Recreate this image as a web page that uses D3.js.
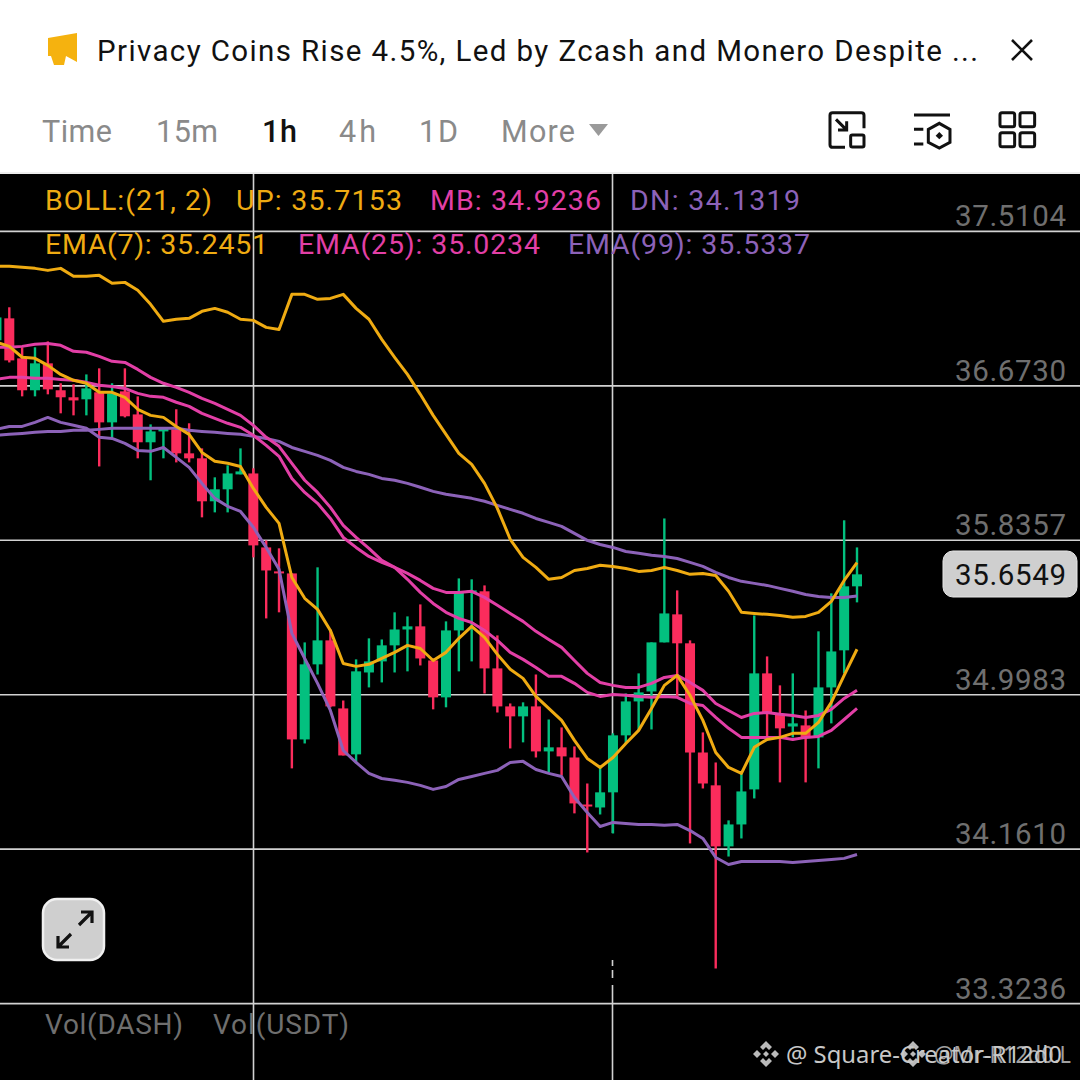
<!DOCTYPE html>
<html>
<head>
<meta charset="utf-8">
<style>
html, body { margin: 0; padding: 0; background: #fff; }
svg { display: block; }
text { font-family: Roboto, sans-serif; }
</style>
<script src="https://cdn.jsdelivr.net/npm/d3@7/dist/d3.min.js"></script>
</head>
<body>
<div id="chart"></div>
<script>
var titleText = "Privacy Coins Rise 4.5%, Led by Zcash and Monero Despite ...";
var tabs = ["Time", "15m", "1h", "4h", "1D", "More"];
var priceTicks = [37.5104, 36.6730, 35.8357, 34.9983, 34.1610, 33.3236];
var lastPrice = 35.6549;

var opens = [36.920,37.039,36.822,36.649,36.795,36.649,36.611,36.600,36.638,36.475,36.643,36.518,36.367,36.426,36.437,36.307,36.280,36.047,36.112,36.193,36.198,35.797,35.667,35.656,34.756,35.163,35.293,34.924,34.675,35.119,35.179,35.266,35.352,35.369,35.184,34.984,35.347,35.553,35.559,35.141,34.935,34.881,34.935,34.691,34.713,34.658,34.403,34.387,34.469,34.778,34.962,35.016,35.282,35.434,35.277,34.685,34.507,34.176,34.295,34.485,35.114,34.892,34.826,34.832,34.767,35.038,35.239,35.586];
var highs = [37.044,37.099,36.882,36.882,36.914,36.687,36.681,36.735,36.768,36.687,36.768,36.616,36.464,36.443,36.546,36.470,36.334,36.177,36.242,36.334,36.226,35.835,35.792,35.656,35.282,35.689,35.352,34.967,35.190,35.304,35.298,35.445,35.423,35.488,35.195,35.396,35.629,35.624,35.591,35.320,34.951,34.957,35.108,34.864,34.821,34.718,34.517,34.604,34.789,35.005,35.114,35.282,35.954,35.564,35.293,34.794,34.631,34.317,34.572,35.428,35.206,35.049,35.114,34.913,35.342,35.548,35.944,35.797];
var lows = [36.893,36.800,36.616,36.616,36.627,36.524,36.513,36.513,36.236,36.394,36.502,36.280,36.161,36.280,36.258,36.258,35.960,35.987,35.987,36.193,35.743,35.412,35.445,34.599,34.734,35.108,34.930,34.669,34.626,35.038,35.065,35.119,35.125,35.157,34.919,34.930,35.125,35.179,35.005,34.902,34.707,34.740,34.658,34.577,34.561,34.355,34.143,34.349,34.246,34.734,34.805,34.810,35.282,34.984,34.192,34.490,33.514,34.121,34.219,34.436,34.767,34.523,34.767,34.523,34.599,34.843,35.114,35.499];
var closes = [37.044,36.811,36.649,36.795,36.654,36.611,36.594,36.659,36.475,36.632,36.508,36.367,36.426,36.443,36.307,36.280,36.047,36.112,36.198,36.209,35.808,35.672,35.656,34.756,35.163,35.293,34.935,34.669,35.125,35.179,35.266,35.352,35.369,35.195,34.984,35.347,35.553,35.564,35.141,34.935,34.881,34.935,34.691,34.713,34.664,34.409,34.393,34.469,34.778,34.962,35.011,35.282,35.439,35.277,34.685,34.517,34.176,34.295,34.474,35.114,34.897,34.816,34.843,34.767,35.038,35.233,35.586,35.651];

var bollUp = [37.321,37.321,37.316,37.310,37.299,37.310,37.267,37.267,37.272,37.229,37.234,37.191,37.115,37.023,37.034,37.039,37.077,37.093,37.072,37.034,37.028,36.990,36.979,37.169,37.169,37.142,37.147,37.169,37.093,37.034,36.925,36.828,36.735,36.627,36.513,36.410,36.307,36.247,36.144,36.009,35.841,35.743,35.689,35.624,35.634,35.672,35.683,35.700,35.694,35.683,35.667,35.672,35.689,35.672,35.651,35.656,35.645,35.559,35.445,35.439,35.434,35.428,35.418,35.423,35.445,35.504,35.618,35.715];
var bollMb = [36.882,36.882,36.887,36.898,36.903,36.893,36.860,36.855,36.833,36.806,36.800,36.762,36.719,36.687,36.665,36.638,36.605,36.578,36.546,36.513,36.459,36.394,36.345,36.253,36.161,36.095,36.014,35.916,35.851,35.792,35.727,35.689,35.624,35.553,35.493,35.445,35.412,35.390,35.347,35.293,35.228,35.190,35.146,35.098,35.098,35.060,35.011,34.989,35.000,34.995,34.989,34.984,34.989,34.984,34.951,34.940,34.875,34.816,34.767,34.767,34.767,34.767,34.756,34.767,34.772,34.805,34.864,34.924];
var bollDn = [36.437,36.453,36.453,36.475,36.502,36.475,36.459,36.443,36.394,36.388,36.361,36.323,36.318,36.339,36.285,36.231,36.144,36.063,36.020,35.992,35.906,35.797,35.678,35.331,35.195,35.060,34.913,34.696,34.631,34.572,34.544,34.534,34.523,34.507,34.485,34.501,34.539,34.555,34.572,34.588,34.631,34.637,34.593,34.572,34.555,34.441,34.360,34.284,34.306,34.300,34.295,34.295,34.290,34.295,34.262,34.219,34.116,34.078,34.094,34.094,34.094,34.094,34.089,34.094,34.100,34.105,34.111,34.132];
var ema7 = [36.909,36.887,36.828,36.822,36.784,36.735,36.703,36.687,36.638,36.638,36.611,36.546,36.513,36.502,36.453,36.410,36.312,36.264,36.253,36.236,36.117,36.014,35.927,35.634,35.521,35.461,35.347,35.168,35.152,35.163,35.195,35.228,35.266,35.249,35.184,35.228,35.304,35.369,35.309,35.217,35.136,35.087,34.989,34.924,34.859,34.751,34.653,34.604,34.658,34.734,34.805,34.924,35.049,35.103,34.995,34.859,34.685,34.604,34.572,34.713,34.756,34.767,34.789,34.789,34.848,34.957,35.103,35.245];
var ema25 = [36.708,36.719,36.719,36.714,36.714,36.708,36.703,36.692,36.676,36.670,36.659,36.632,36.616,36.611,36.584,36.562,36.524,36.497,36.470,36.448,36.405,36.350,36.291,36.171,36.095,36.036,35.954,35.851,35.797,35.748,35.716,35.689,35.656,35.618,35.575,35.553,35.553,35.559,35.526,35.483,35.439,35.396,35.342,35.298,35.255,35.184,35.114,35.065,35.049,35.038,35.038,35.060,35.092,35.103,35.065,35.022,34.951,34.913,34.875,34.897,34.902,34.892,34.886,34.875,34.886,34.919,34.978,35.023];
var ema99 = [36.405,36.410,36.415,36.421,36.426,36.426,36.432,36.432,36.437,36.443,36.443,36.443,36.443,36.443,36.443,36.432,36.426,36.421,36.415,36.410,36.399,36.388,36.372,36.339,36.318,36.296,36.269,36.231,36.209,36.193,36.171,36.161,36.144,36.123,36.101,36.085,36.074,36.063,36.047,36.025,36.003,35.982,35.954,35.933,35.911,35.873,35.835,35.813,35.797,35.775,35.765,35.754,35.748,35.737,35.716,35.694,35.662,35.634,35.613,35.602,35.591,35.575,35.559,35.542,35.531,35.526,35.526,35.534];

var WIDTH = 1080, HEIGHT = 1080, CHART_TOP = 174;
var GREEN = "#03c07f", RED = "#fb2c5c", ORANGE = "#efab12", PINK = "#e23fa6", PURPLE = "#8c62b8", AXIS_GRAY = "#6f6f6f", GRID = "#d2d2d2";

var svg = d3.select("#chart").append("svg").attr("width", WIDTH).attr("height", HEIGHT);

svg.append("rect").attr("width", WIDTH).attr("height", HEIGHT).attr("fill", "#fff");
svg.append("rect").attr("y", 172).attr("width", WIDTH).attr("height", 2).attr("fill", "#eeeeee");
svg.append("rect").attr("y", CHART_TOP).attr("width", WIDTH).attr("height", HEIGHT - CHART_TOP).attr("fill", "#000");

// scales: one candle step is about 12.84px, price grid about 154.4px
var xScale = d3.scaleLinear().domain([0, opens.length - 1]).range([-3.54, 857]);
var yScale = d3.scaleLinear().domain([37.5104, 33.3236]).range([231.4, 1003.6]);

// grid
var grid = svg.append("g").attr("class", "grid");
grid.selectAll("line.h").data(priceTicks).enter().append("line")
    .attr("class", "h")
    .attr("x1", 0).attr("x2", WIDTH)
    .attr("y1", function (d) { return yScale(d); })
    .attr("y2", function (d) { return yScale(d); })
    .attr("stroke", GRID).attr("stroke-width", 1.6);
var vSegments = [[253.5, CHART_TOP, HEIGHT], [612.5, CHART_TOP, 833], [612.5, 960, 966], [612.5, 970, 978], [612.5, 985, HEIGHT]];
grid.selectAll("line.v").data(vSegments).enter().append("line")
    .attr("class", "v")
    .attr("x1", function (d) { return d[0]; }).attr("x2", function (d) { return d[0]; })
    .attr("y1", function (d) { return d[1]; }).attr("y2", function (d) { return d[2]; })
    .attr("stroke", GRID).attr("stroke-width", 1.6);

// candles
var candles = svg.append("g").selectAll("g").data(opens).enter().append("g");
function candleColor(d, i) { return closes[i] >= d ? GREEN : RED; }
candles.append("line")
    .attr("x1", function (d, i) { return xScale(i); })
    .attr("x2", function (d, i) { return xScale(i); })
    .attr("y1", function (d, i) { return yScale(highs[i]); })
    .attr("y2", function (d, i) { return yScale(lows[i]); })
    .attr("stroke", candleColor).attr("stroke-width", 2.4);
candles.append("rect")
    .attr("x", function (d, i) { return xScale(i) - 5; })
    .attr("width", 10)
    .attr("y", function (d, i) { return yScale(Math.max(d, closes[i])); })
    .attr("height", function (d, i) { return Math.max(Math.abs(yScale(d) - yScale(closes[i])), 2); })
    .attr("fill", candleColor);

// indicator lines
var lineGen = d3.line().x(function (d, i) { return xScale(i); }).y(function (d) { return yScale(d); });
var indicators = [[ema99, PURPLE], [bollDn, PURPLE], [bollUp, ORANGE], [bollMb, PINK], [ema25, PINK], [ema7, ORANGE]];
svg.append("g").selectAll("path").data(indicators).enter().append("path")
    .attr("d", function (d) { return lineGen(d[0]); })
    .attr("fill", "none")
    .attr("stroke", function (d) { return d[1]; })
    .attr("stroke-width", 3)
    .attr("stroke-linejoin", "round");

// price axis
var axis = d3.axisRight(yScale).tickValues(priceTicks).tickFormat(d3.format(".4f")).tickSize(0);
var axisG = svg.append("g").attr("transform", "translate(955,0)").call(axis);
axisG.select(".domain").remove();
axisG.selectAll("text")
    .attr("x", 0).attr("dy", -5.5)
    .attr("fill", AXIS_GRAY)
    .attr("textLength", 111)
    .attr("lengthAdjust", "spacing")
    .style("font-size", "29.5px")
    .style("font-family", "Roboto, sans-serif");

// current price tag
svg.append("rect").attr("x", 943).attr("y", 551).attr("width", 134).attr("height", 46).attr("rx", 10)
    .attr("fill", "#cfcfcf").attr("stroke", "#e6e6e6").attr("stroke-width", 1);
svg.append("text").attr("x", 955).attr("y", 585).attr("font-size", 29.5).attr("fill", "#111")
    .attr("textLength", 111).attr("lengthAdjust", "spacing")
    .text(d3.format(".4f")(lastPrice));

// indicator legend: text, x, baseline, colour, width
var legend = [
    ["BOLL:(21, 2)", 45, 210, ORANGE, 167],
    ["UP: 35.7153", 236, 210, ORANGE, 166],
    ["MB: 34.9236", 430, 210, PINK, 171],
    ["DN: 34.1319", 630, 210, PURPLE, 170],
    ["EMA(7): 35.2451", 45, 254, ORANGE, 223],
    ["EMA(25): 35.0234", 298, 254, PINK, 242],
    ["EMA(99): 35.5337", 568, 254, PURPLE, 242]
];
svg.append("g").selectAll("text").data(legend).enter().append("text")
    .attr("x", function (d) { return d[1]; })
    .attr("y", function (d) { return d[2]; })
    .attr("fill", function (d) { return d[3]; })
    .attr("font-size", 28.5)
    .attr("textLength", function (d) { return d[4]; })
    .attr("lengthAdjust", "spacing")
    .text(function (d) { return d[0]; });

// volume captions
svg.append("text").attr("x", 45).attr("y", 1034).attr("font-size", 28).attr("fill", AXIS_GRAY)
    .attr("textLength", 138).attr("lengthAdjust", "spacing").text("Vol(DASH)");
svg.append("text").attr("x", 213).attr("y", 1034).attr("font-size", 28).attr("fill", AXIS_GRAY)
    .attr("textLength", 136).attr("lengthAdjust", "spacing").text("Vol(USDT)");

// header
svg.append("path").attr("d", "M48,38 L77,33 L77,62 L66,56 L64,65 L54,65 L51,56 L48,56 Z").attr("fill", "#f5b20f");
svg.append("text").attr("x", 97).attr("y", 61).attr("font-size", 29.5).attr("fill", "#111")
    .attr("textLength", 881).attr("lengthAdjust", "spacing").text(titleText);
svg.append("path").attr("d", "M1012,40 L1032,60 M1032,40 L1012,60").attr("stroke", "#111").attr("stroke-width", 2.6).attr("fill", "none");

var tabX = [42, 156, 262, 339, 419, 501];
var tabW = [70, 62, 35, 37, 39, 74];
svg.append("g").selectAll("text").data(tabs).enter().append("text")
    .attr("x", function (d, i) { return tabX[i]; })
    .attr("y", 142)
    .attr("font-size", 30.5)
    .attr("font-weight", function (d) { return d === "1h" ? 500 : 400; })
    .attr("fill", function (d) { return d === "1h" ? "#111" : "#8a8a8a"; })
    .attr("textLength", function (d, i) { return tabW[i]; })
    .attr("lengthAdjust", "spacing")
    .text(function (d) { return d; });
svg.append("path").attr("d", "M589,124 L608,124 L598.5,136 Z").attr("fill", "#9a9a9a");

// toolbar icons
var icons = svg.append("g").attr("transform", "translate(820,90) scale(0.3333)")
    .attr("fill", "none").attr("stroke", "#111").attr("stroke-width", 9);
icons.append("path").attr("d", "M75,172 L38,172 Q30,172 30,164 L30,76 Q30,68 38,68 L124,68 Q132,68 132,76 L132,115");
icons.append("rect").attr("x", 92).attr("y", 135).attr("width", 40).attr("height", 36).attr("rx", 5);
icons.append("path").attr("d", "M48,88 L78,118 M80,94 L80,120 L54,120");
icons.append("path").attr("d", "M282,75 L390,75 M282,118 L310,118 M282,162 L310,162");
icons.append("path").attr("d", "M358,100 L390,118 L390,157 L358,174 L325,157 L325,118 Z");
icons.append("path").attr("d", "M358,126 L369,137 L358,148 L347,137 Z").attr("fill", "#111").attr("stroke", "none");
var iconSquares = [[540, 68], [600, 68], [540, 128], [600, 128]];
icons.selectAll("rect.sq").data(iconSquares).enter().append("rect")
    .attr("class", "sq")
    .attr("x", function (d) { return d[0]; }).attr("y", function (d) { return d[1]; })
    .attr("width", 44).attr("height", 42).attr("rx", 6);

// expand button
svg.append("rect").attr("x", 43).attr("y", 899).attr("width", 61).attr("height", 61).attr("rx", 14)
    .attr("fill", "#cfcfcf").attr("stroke", "#f0f0f0").attr("stroke-width", 2.5);
svg.append("path")
    .attr("d", "M58,947 L71,934 M58,936 L58,947 L69,947 M79,925 L92,912 M81,912 L92,912 L92,923")
    .attr("fill", "none").attr("stroke", "#111").attr("stroke-width", 3.2);

// watermark
function diamond(cx, cy) {
    var r = 13, g = svg.append("g").attr("fill", "#cfcfcf").attr("opacity", 0.9);
    g.append("path").attr("d", "M" + cx + "," + (cy - r) + " L" + (cx + 6) + "," + (cy - 7) + " L" + (cx + 3) + "," + (cy - 4) + " L" + cx + "," + (cy - 7) + " L" + (cx - 3) + "," + (cy - 4) + " L" + (cx - 6) + "," + (cy - 7) + " Z");
    g.append("path").attr("d", "M" + cx + "," + (cy + r) + " L" + (cx + 6) + "," + (cy + 7) + " L" + (cx + 3) + "," + (cy + 4) + " L" + cx + "," + (cy + 7) + " L" + (cx - 3) + "," + (cy + 4) + " L" + (cx - 6) + "," + (cy + 7) + " Z");
    g.append("path").attr("d", "M" + cx + "," + (cy - 3) + " L" + (cx + 3) + "," + cy + " L" + cx + "," + (cy + 3) + " L" + (cx - 3) + "," + cy + " Z");
    g.append("path").attr("d", "M" + (cx - 13) + "," + cy + " L" + (cx - 9) + "," + (cy - 4) + " L" + (cx - 5) + "," + cy + " L" + (cx - 9) + "," + (cy + 4) + " Z");
    g.append("path").attr("d", "M" + (cx + 13) + "," + cy + " L" + (cx + 9) + "," + (cy - 4) + " L" + (cx + 5) + "," + cy + " L" + (cx + 9) + "," + (cy + 4) + " Z");
}
diamond(766, 1054);
diamond(913, 1054);
svg.append("text").attr("x", 786).attr("y", 1063).attr("font-size", 24).attr("fill", "#c8c8c8")
    .attr("textLength", 276).attr("lengthAdjust", "spacingAndGlyphs")
    .style("font-family", "'Noto Sans', sans-serif").text("@ Square-Creator-R12d0");
svg.append("text").attr("x", 934).attr("y", 1063).attr("font-size", 24).attr("fill", "#c8c8c8").attr("opacity", 0.8)
    .attr("textLength", 137).attr("lengthAdjust", "spacingAndGlyphs")
    .style("font-family", "'Noto Sans', sans-serif").text("@Mr-R12d0.L");
</script>
</body>
</html>
